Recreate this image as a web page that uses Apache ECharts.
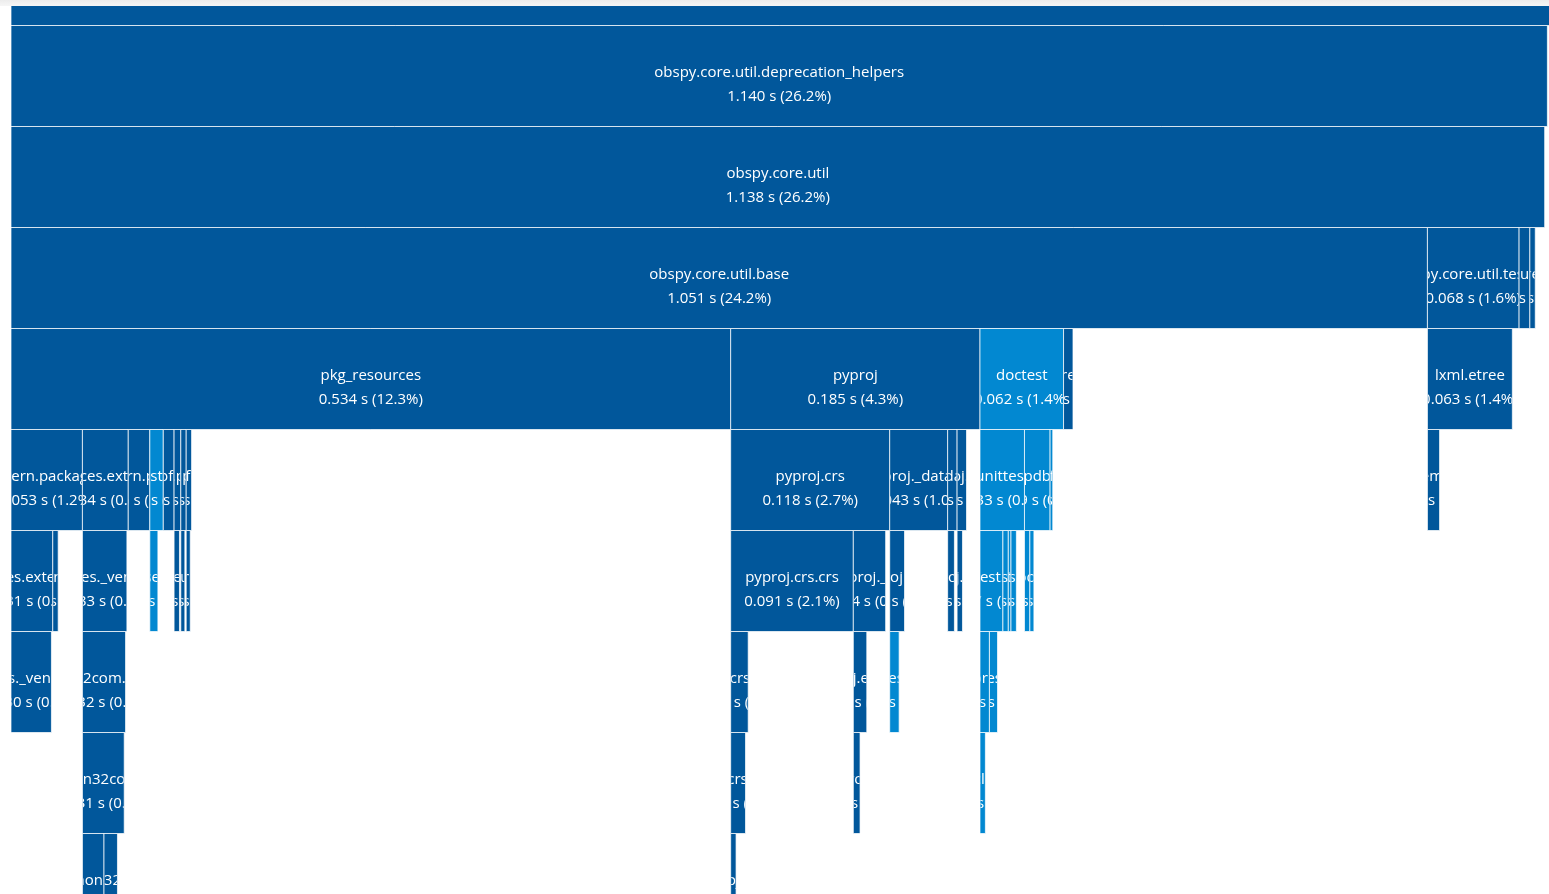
<!DOCTYPE html>
<html>
<head>
<meta charset="utf-8">
<script src="https://cdn.jsdelivr.net/npm/echarts@6/dist/echarts.min.js"></script>
<style>
  html, body { margin: 0; padding: 0; width: 1549px; height: 894px; overflow: hidden;
    background: linear-gradient(#ececec 0px, #f6f6f6 6px, #ffffff 6px); }
  #chart { width: 1549px; height: 894px; }
</style>
</head>
<body>
<div id="chart"></div>
<script>
// ---- data: import-time tree (seconds) ----
const totalSeconds = 4.35;
const nodeNames = [
  'obspy.core',
  'obspy.core.util.deprecation_helpers',
  'obspy.core.util',
  'obspy.core.util.base',
  'obspy.core.util.testing',
  'obspy.core.util.attribdict',
  'obspy.core.util.misc',
  'pkg_resources',
  'pyproj',
  'doctest',
  're',
  'lxml.etree',
  'lxml._elementpath',
  'pkg_resources.extern.packaging.requirements',
  'pkg_resources.extern.appdirs',
  'pkg_resources.extern.packaging.specifiers',
  'plistlib',
  'zipfile',
  'email.parser',
  'tempfile',
  'platform',
  'pkg_resources.extern.pyparsing',
  'pkg_resources.extern.packaging.markers',
  'pkg_resources._vendor.pyparsing',
  'pkg_resources._vendor.appdirs',
  'win32com.shell',
  'win32com',
  'pythoncom',
  'win32api',
  'xml.parsers.expat',
  'email.feedparser',
  'shutil',
  'subprocess',
  'pyproj.crs',
  'pyproj._datadir',
  'pyproj.database',
  'pyproj.geod',
  'pyproj.crs.crs',
  'pyproj._crs',
  'pyproj.utils',
  'pyproj.aoi',
  'pyproj._geod',
  'pyproj.crs._cf1x8',
  'pyproj.enums',
  'ctypes.util',
  'pyproj.crs.datum',
  'pyproj.list',
  'pyproj.proj',
  'unittest',
  'pdb',
  'difflib',
  'unittest.case',
  'unittest.suite',
  'unittest.loader',
  'unittest.main',
  'code',
  'bdb',
  'pprint',
  'unittest.util',
  'dataclasses'
];
const nodeParents = [
  -1, 0, 1, 2, 2, 2, 2, 3, 3, 3,
  3, 4, 11, 7, 7, 7, 7, 7, 7, 7,
  7, 13, 13, 21, 14, 24, 25, 26, 26, 16,
  18, 19, 20, 8, 8, 8, 8, 33, 33, 34,
  35, 36, 37, 38, 39, 42, 43, 45, 9, 9,
  9, 48, 48, 48, 48, 49, 49, 51, 51, 57
];
const nodeSeconds = [
  1.480, 1.140, 1.138, 1.051, 0.068, 0.008, 0.004, 0.534, 0.185, 0.062,
  0.007, 0.063, 0.009, 0.053, 0.034, 0.016, 0.010, 0.008, 0.005, 0.004,
  0.004, 0.031, 0.004, 0.030, 0.033, 0.032, 0.031, 0.016, 0.010, 0.006,
  0.004, 0.003, 0.003, 0.118, 0.043, 0.007, 0.007, 0.091, 0.024, 0.011,
  0.005, 0.004, 0.013, 0.010, 0.007, 0.011, 0.005, 0.004, 0.033, 0.019,
  0.002, 0.017, 0.004, 0.002, 0.004, 0.004, 0.003, 0.007, 0.006, 0.004
];
// 'L' = light-blue group, 'D' = dark-blue group
const nodeKinds = [
  'D','D','D','D','D','D','D','D','D','L',
  'D','D','D','D','D','D','L','D','D','D',
  'D','D','D','D','D','D','D','D','D','L',
  'D','D','D','D','D','D','D','D','D','D',
  'D','D','D','D','L','D','D','D','L','L',
  'L','L','L','L','L','L','L','L','L','L'
];

// ---- layout derived from tree: children packed left-to-right from parent start ----
const starts = new Array(nodeNames.length).fill(0);
const depths = new Array(nodeNames.length).fill(0);
const usedOffset = new Array(nodeNames.length).fill(0);
for (let i = 0; i < nodeNames.length; i++) {
  const p = nodeParents[i];
  if (p < 0) { starts[i] = 0; depths[i] = 0; continue; }
  starts[i] = starts[p] + usedOffset[p];
  usedOffset[p] += nodeSeconds[i];
  depths[i] = depths[p] + 1;
}
const fmtLabel = (s) => s.toFixed(3) + ' s (' + (s / totalSeconds * 100).toFixed(1) + '%)';
const seriesData = nodeNames.map((n, i) => ({
  name: n,
  value: [starts[i], starts[i] + nodeSeconds[i], depths[i]]
}));

const colors = { D: '#01579B', L: '#0288D1' };

const chart = echarts.init(document.getElementById('chart'), null, { renderer: 'canvas' });
chart.setOption({
  animation: false,
  backgroundColor: 'transparent',
  grid: { left: 11, right: 0, top: 6, bottom: 0 },
  xAxis: { type: 'value', min: 0, max: 1.1412, show: false },
  yAxis: { type: 'value', min: 0.80693, max: 9.59901, inverse: true, show: false },
  series: [{
    type: 'custom',
    clip: true,
    silent: true,
    encode: { x: [0, 1], y: 2 },
    data: seriesData,
    renderItem: function (params, api) {
      const i = params.dataIndex;
      const s = api.value(0), e = api.value(1), d = api.value(2);
      const a = api.coord([s, d]);
      const b = api.coord([e, d + 1]);
      const x = a[0], y = a[1], w = b[0] - a[0], h = b[1] - a[1];
      return {
        type: 'group',
        children: [
          {
            type: 'rect',
            shape: { x: x, y: y, width: w, height: h },
            style: { fill: colors[nodeKinds[i]], stroke: 'rgba(255,255,255,0.72)', lineWidth: 1 }
          },
          {
            type: 'group',
            clipPath: { type: 'rect', shape: { x: x + 0.5, y: y, width: Math.max(w - 1, 0), height: h } },
            children: [{
              type: 'text',
              x: x + w / 2,
              y: y + h * 0.59,
              style: {
                text: nodeNames[i] + '\n' + fmtLabel(nodeSeconds[i]),
                fill: '#ffffff',
                font: '15px "Open Sans", "Noto Sans", sans-serif',
                align: 'center',
                verticalAlign: 'middle',
                lineHeight: 24
              }
            }]
          }
        ]
      };
    }
  }]
});
</script>
</body>
</html>
